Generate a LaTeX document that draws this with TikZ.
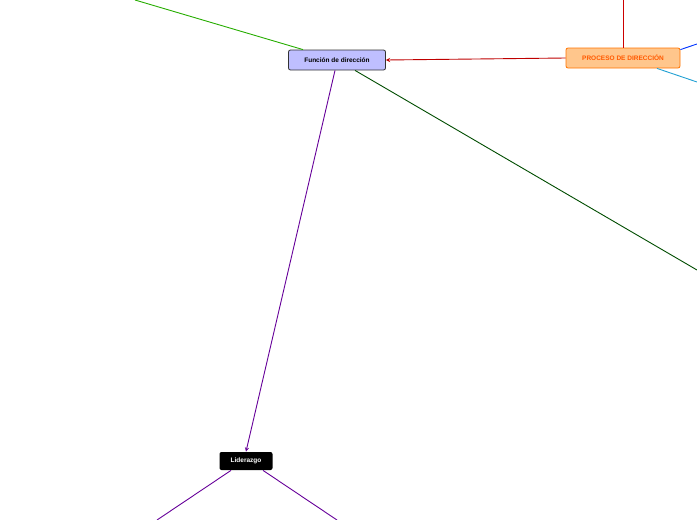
\documentclass[tikz,border=0pt]{standalone}
\usepackage{fontspec}
\setmainfont{Liberation Sans}
\begin{document}
\begin{tikzpicture}[x=1pt,y=-1pt,
  box/.style={rounded corners=2pt,font=\fontsize{6.5}{7}\selectfont\bfseries,inner sep=0pt,line width=0.8pt},
  link/.style={line width=0.9pt}]
\useasboundingbox (0,0) rectangle (697,520);
\node[box,draw=black!80,fill=blue!25!white,minimum width=97pt,minimum height=20pt] (f) at (337,60) {Función de dirección};
\node[box,draw=orange!90!red,fill=orange!45!white,text=orange!70!red,minimum width=114pt,minimum height=20pt] (p) at (623,58) {PROCESO DE DIRECCIÓN};
\node[box,fill=black,text=white,minimum width=53pt,minimum height=18pt] (l) at (246,461) {Liderazgo};
\coordinate (g0) at (135,0);
\coordinate (r0) at (623,0);
\coordinate (b0) at (697,44);
\coordinate (t0) at (697,82);
\coordinate (d0) at (697,270);
\coordinate (l1) at (157,520);
\coordinate (l2) at (337,520);
\draw[link,green!60!black!80!lime] ([xshift=-34pt]f.north) -- (g0);
\draw[link,red!80!black] (p.north) -- (r0);
\draw[link,blue!80!cyan] (p.north east) ++(0,2) -- (b0);
\draw[link,cyan!70!teal] ([xshift=34pt]p.south) -- (t0);
\draw[link,green!30!black] ([xshift=18pt]f.south) -- (d0);
\draw[link,red!75!black,-stealth] (p.west) -- (f.east);
\draw[link,violet!80!blue,-stealth] ([xshift=-2pt]f.south) -- (l.north);
\draw[link,violet!80!blue] ([xshift=-15pt]l.south) -- (l1);
\draw[link,violet!80!blue] ([xshift=17pt]l.south) -- (l2);
\end{tikzpicture}
\end{document}
